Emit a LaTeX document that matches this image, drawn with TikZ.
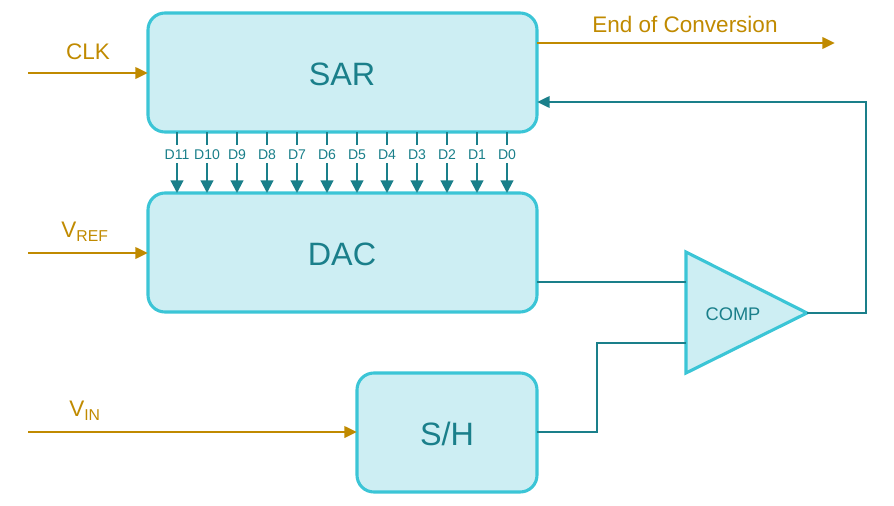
\documentclass[tikz,border=0pt]{standalone}
\usepackage{fontspec}
\setmainfont{Liberation Sans}
\usetikzlibrary{arrows.meta}
\definecolor{boxfill}{HTML}{CDEEF3}
\definecolor{boxline}{HTML}{3BC5D6}
\definecolor{sigteal}{HTML}{1A7F8A}
\definecolor{siggold}{HTML}{C08A00}
\tikzset{
  blk/.style={draw=boxline,fill=boxfill,line width=2.2pt,rounded corners=12pt,text=sigteal},
  gold/.style={siggold,line width=2pt,-{Triangle[length=9pt,width=8pt]}},
  teal/.style={sigteal,line width=2pt},
  glab/.style={text=siggold,font=\fontsize{16}{18}\selectfont}
}
\begin{document}
\begin{tikzpicture}[x=0.025cm,y=-0.025cm]
\useasboundingbox (0,0) rectangle (894,506);
% blocks
\draw[blk] (148,13) rectangle (537,132);
\node[text=sigteal,font=\fontsize{23}{26}\selectfont] (sar) at (342,74) {SAR};
\draw[blk] (148,193) rectangle (537,312);
\node[text=sigteal,font=\fontsize{23}{26}\selectfont] (dac) at (342,254) {DAC};
\draw[blk] (357,373) rectangle (537,492);
\node[text=sigteal,font=\fontsize{23}{26}\selectfont] (sh) at (447,434) {S/H};
\draw[draw=boxline,fill=boxfill,line width=2.2pt] (686,252) -- (807,313) -- (686,373) -- cycle;
\node[text=sigteal,font=\fontsize{13}{15}\selectfont] (comp) at (733,314) {COMP};
% bit lines
\foreach \i [count=\k from 0] in {11,10,...,0} {
  \coordinate (t\i) at (177+30*\k,132);
  \coordinate (b\i) at (177+30*\k,193);
  \draw[teal,line width=1.5pt] (t\i) -- ++(0,13);
  \node[text=sigteal,font=\fontsize{10}{12}\selectfont] (d\i) at (177+30*\k,155) {D\i};
  \draw[teal,line width=1.5pt,-{Triangle[length=9pt,width=9pt]}] (177+30*\k,163) -- (b\i);
}
% inputs
\coordinate (clk) at (28,73); \coordinate (sarin) at (148,73);
\draw[gold] (clk) -- (sarin);
\node[glab] (clkl) at (88,52) {CLK};
\coordinate (vref) at (28,253); \coordinate (dacin) at (148,253);
\draw[gold] (vref) -- (dacin);
\node[glab] (vrefl) at (85,232) {V\textsubscript{REF}};
\coordinate (vin) at (28,432); \coordinate (shin) at (357,432);
\draw[gold] (vin) -- (shin);
\node[glab] (vinl) at (85,411) {V\textsubscript{IN}};
\coordinate (eocs) at (537,43); \coordinate (eoce) at (835,43);
\draw[gold] (eocs) -- (eoce);
\node[glab] (eocl) at (685,24) {End of Conversion};
% connections
\coordinate (dacout) at (537,282); \coordinate (cmpm) at (686,282);
\draw[teal] (dacout) -- (cmpm);
\coordinate (shout) at (537,432); \coordinate (cmpp) at (686,343);
\draw[teal] (shout) -| (597,343) -- (cmpp);
\coordinate (cmpout) at (807,313); \coordinate (sarfb) at (537,102);
\draw[teal,-{Triangle[length=9pt,width=8pt]}] (cmpout) -| (866,102) -- (sarfb);
\end{tikzpicture}
\end{document}
